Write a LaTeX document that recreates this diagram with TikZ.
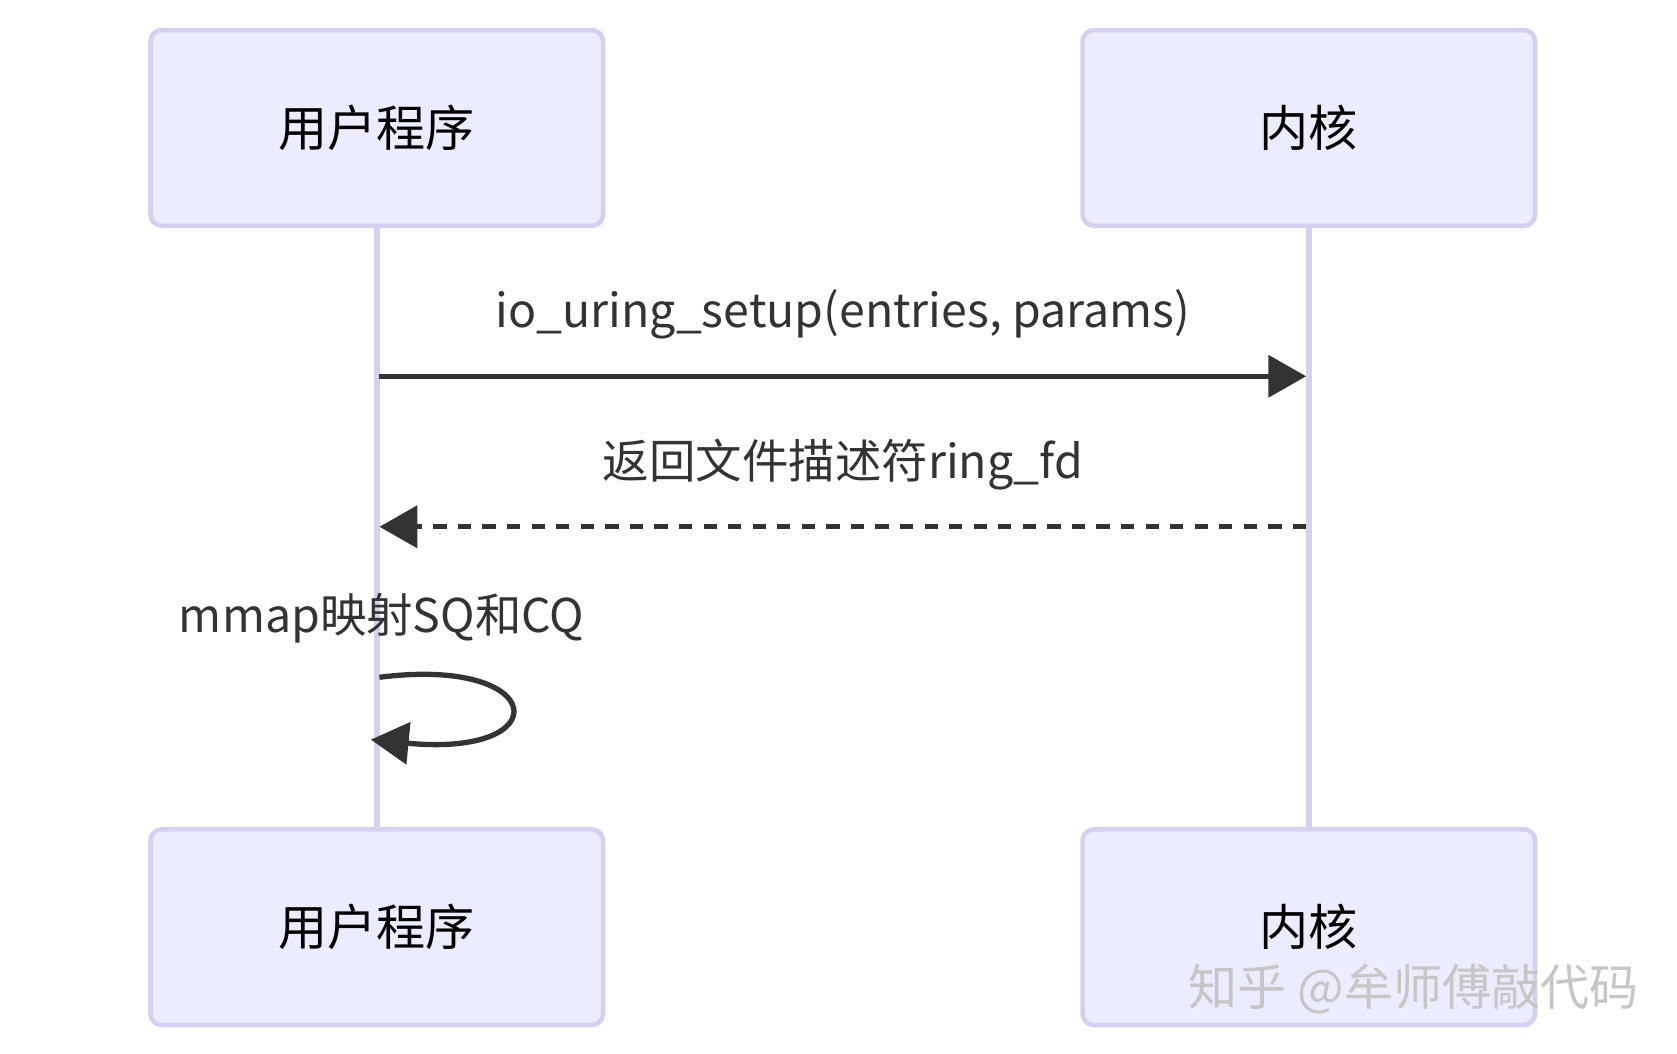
\documentclass[tikz,border=0pt]{standalone}
\usepackage{fontspec}
\setmainfont{Noto Sans CJK SC}
\usetikzlibrary{arrows.meta}
\definecolor{actorfill}{HTML}{ECECFF}
\definecolor{actorline}{HTML}{D4D0F0}
\definecolor{msgline}{HTML}{333333}
\tikzset{
  actor/.style={
    rectangle,
    rounded corners=3pt,
    draw=actorline,
    line width=1.2pt,
    fill=actorfill,
    minimum width=4.21cm,
    minimum height=1.82cm,
    font=\fontsize{13}{15}\selectfont
  },
  life/.style={draw=actorline, line width=1.6pt},
  msg/.style={draw=msgline, line width=1.4pt, -{Triangle[length=10pt,width=11pt]}},
  lbl/.style={font=\fontsize{12.3}{15}\selectfont, text=msgline}
}
\begin{document}
\begin{tikzpicture}
    \useasboundingbox (0,0) rectangle (15.6,-9.8);
    \node[actor] (u0) at (3.505, -1.19) {用户程序};
    \node[actor] (k0) at (12.175, -1.19) {内核};
    \node[actor] (u1) at (3.505, -8.625) {用户程序};
    \node[actor] (k1) at (12.175, -8.625) {内核};
    \draw[life] (u0.south) -- (u1.north);
    \draw[life] (k0.south) -- (k1.north);
    % messages
    \coordinate (a0) at (3.53, -3.5);
    \coordinate (a1) at (12.15, -3.5);
    \coordinate (b0) at (12.15, -4.9);
    \coordinate (b1) at (3.53, -4.9);
    \draw[msg] (a0) -- (a1) node[lbl, midway, above=0.2cm] {io\_uring\_setup(entries, params)};
    \draw[msg, dash pattern=on 3.5pt off 3pt] (b0) -- (b1) node[lbl, midway, above=0.2cm] {返回文件描述符ring\_fd};
    \node[lbl] (m) at (3.55, -5.75) {mmap映射SQ和CQ};
    \coordinate (c0) at (3.53, -6.3);
    \coordinate (c1) at (3.45, -6.88);
    \draw[msg] (c0) .. controls (5.1, -6.1) and (5.2, -7.05) .. (c1);
    \node[font=\fontsize{13}{15}\selectfont, text=gray!45] (wm) at (13.15, -9.2) {知乎 @牟师傅敲代码};
\end{tikzpicture}
\end{document}
